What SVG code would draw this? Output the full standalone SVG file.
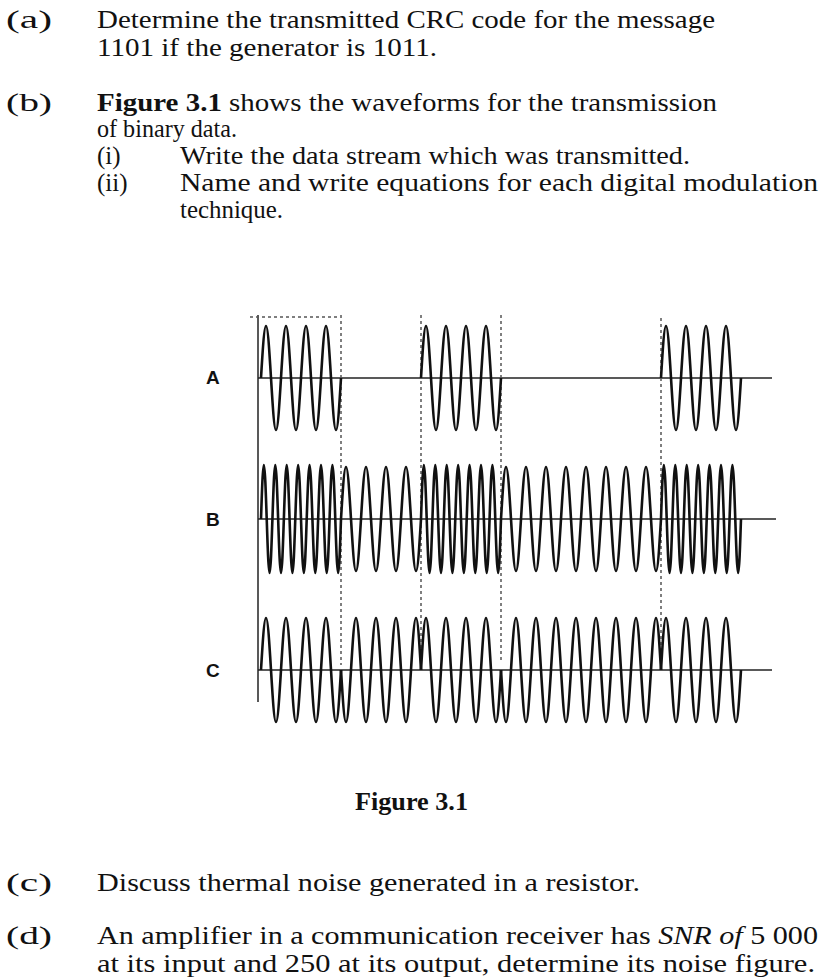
<svg xmlns="http://www.w3.org/2000/svg" width="826" height="980" viewBox="0 0 826 980">
<style>
text{font-family:"Liberation Serif","Times New Roman",serif;font-size:25px;fill:#111}
.lab{font-family:"Liberation Sans",Arial,sans-serif;font-weight:bold;font-size:19px}
.w{fill:none;stroke:#111;stroke-width:2.6}
.ax{stroke:#222;stroke-width:1.5}
.d{stroke:#555;stroke-width:1.5;stroke-dasharray:3,3}
</style>
<defs>
<path id="lo" class="w" d="M0,0 c1.63,-26.6 3.18,-52 5,-52 c1.82,0 3.37,25.4 5,52 c1.63,26.6 3.18,52 5,52 c1.82,0 3.37,-25.4 5,-52 c1.63,-26.6 3.18,-52 5,-52 c1.82,0 3.37,25.4 5,52 c1.63,26.6 3.18,52 5,52 c1.82,0 3.37,-25.4 5,-52 c1.63,-26.6 3.18,-52 5,-52 c1.82,0 3.37,25.4 5,52 c1.63,26.6 3.18,52 5,52 c1.82,0 3.37,-25.4 5,-52 c1.63,-26.6 3.18,-52 5,-52 c1.82,0 3.37,25.4 5,52 c1.63,26.6 3.18,52 5,52 c1.82,0 3.37,-25.4 5,-52"/>
<path id="hi" class="w" d="M0,0 c0.93,-27.6 1.82,-54 2.857,-54 c1.04,0 1.93,26.4 2.857,54 c0.93,27.6 1.82,54 2.857,54 c1.04,0 1.93,-26.4 2.857,-54 c0.93,-27.6 1.82,-54 2.857,-54 c1.04,0 1.93,26.4 2.857,54 c0.93,27.6 1.82,54 2.857,54 c1.04,0 1.93,-26.4 2.857,-54 c0.93,-27.6 1.82,-54 2.857,-54 c1.04,0 1.93,26.4 2.857,54 c0.93,27.6 1.82,54 2.857,54 c1.04,0 1.93,-26.4 2.857,-54 c0.93,-27.6 1.82,-54 2.857,-54 c1.04,0 1.93,26.4 2.857,54 c0.93,27.6 1.82,54 2.857,54 c1.04,0 1.93,-26.4 2.857,-54 c0.93,-27.6 1.82,-54 2.857,-54 c1.04,0 1.93,26.4 2.857,54 c0.93,27.6 1.82,54 2.857,54 c1.04,0 1.93,-26.4 2.857,-54 c0.93,-27.6 1.82,-54 2.857,-54 c1.04,0 1.93,26.4 2.857,54 c0.93,27.6 1.82,54 2.857,54 c1.04,0 1.93,-26.4 2.857,-54 c0.93,-27.6 1.82,-54 2.857,-54 c1.04,0 1.93,26.4 2.857,54 c0.93,27.6 1.82,54 2.857,54 c1.04,0 1.93,-26.4 2.857,-54"/>
</defs>
<g id="questions">
<text x="6" y="28" textLength="46" lengthAdjust="spacingAndGlyphs">(a)</text>
<text x="97" y="28" textLength="618" lengthAdjust="spacingAndGlyphs">Determine the transmitted CRC code for the message</text>
<text x="97" y="56" textLength="340" lengthAdjust="spacingAndGlyphs">1101 if the generator is 1011.</text>
<text x="6" y="111" textLength="46" lengthAdjust="spacingAndGlyphs">(b)</text>
<text x="97" y="111" textLength="620" lengthAdjust="spacingAndGlyphs"><tspan font-weight="bold">Figure 3.1</tspan> shows the waveforms for the transmission</text>
<text x="97" y="137" textLength="140" lengthAdjust="spacingAndGlyphs">of binary data.</text>
<text x="97" y="164">(i)</text>
<text x="180" y="164" textLength="510" lengthAdjust="spacingAndGlyphs">Write the data stream which was transmitted.</text>
<text x="97" y="191">(ii)</text>
<text x="180" y="191" textLength="638" lengthAdjust="spacingAndGlyphs">Name and write equations for each digital modulation</text>
<text x="180" y="218" textLength="103" lengthAdjust="spacingAndGlyphs">technique.</text>
<text x="355" y="810" font-weight="bold" textLength="113" lengthAdjust="spacingAndGlyphs">Figure 3.1</text>
<text x="6" y="891" textLength="46" lengthAdjust="spacingAndGlyphs">(c)</text>
<text x="97" y="891" textLength="543" lengthAdjust="spacingAndGlyphs">Discuss thermal noise generated in a resistor.</text>
<text x="6" y="944" textLength="46" lengthAdjust="spacingAndGlyphs">(d)</text>
<text x="97" y="944" textLength="721" lengthAdjust="spacingAndGlyphs">An amplifier in a communication receiver has <tspan font-style="italic">SNR of</tspan> 5 000</text>
<text x="97" y="972" textLength="718" lengthAdjust="spacingAndGlyphs">at its input and 250 at its output, determine its noise figure.</text>
</g>
<g id="figure">
<line class="ax" x1="258" y1="315" x2="258" y2="702"/>
<line class="d" x1="250" y1="317" x2="340" y2="317"/>
<line class="ax" x1="258" y1="378" x2="772" y2="378"/>
<line class="ax" x1="258" y1="519" x2="776" y2="519"/>
<line class="ax" x1="258" y1="670" x2="772" y2="670"/>
<line class="d" x1="341" y1="315" x2="341" y2="665"/>
<line class="d" x1="421" y1="315" x2="421" y2="660"/>
<line class="d" x1="501" y1="315" x2="501" y2="660"/>
<line class="d" x1="661" y1="318" x2="661" y2="665"/>
<text class="lab" x="206" y="384">A</text>
<text class="lab" x="206" y="526">B</text>
<text class="lab" x="206" y="677">C</text>
<g id="waveA">
<use href="#lo" x="261" y="378"/><use href="#lo" x="421" y="378"/><use href="#lo" x="661" y="378"/>
</g>
<g id="waveB">
<use href="#hi" x="261" y="519"/><use href="#lo" x="341" y="519"/><use href="#hi" x="421" y="519"/>
<use href="#lo" x="501" y="519"/><use href="#lo" x="581" y="519"/><use href="#hi" x="661" y="519"/>
</g>
<g id="waveC">
<use href="#lo" x="261" y="670"/>
<use href="#lo" transform="translate(341,670) scale(1,-1)"/>
<use href="#lo" x="421" y="670"/>
<use href="#lo" transform="translate(501,670) scale(1,-1)"/>
<use href="#lo" transform="translate(581,670) scale(1,-1)"/>
<use href="#lo" x="661" y="670"/>
</g>
</g>
</svg>
